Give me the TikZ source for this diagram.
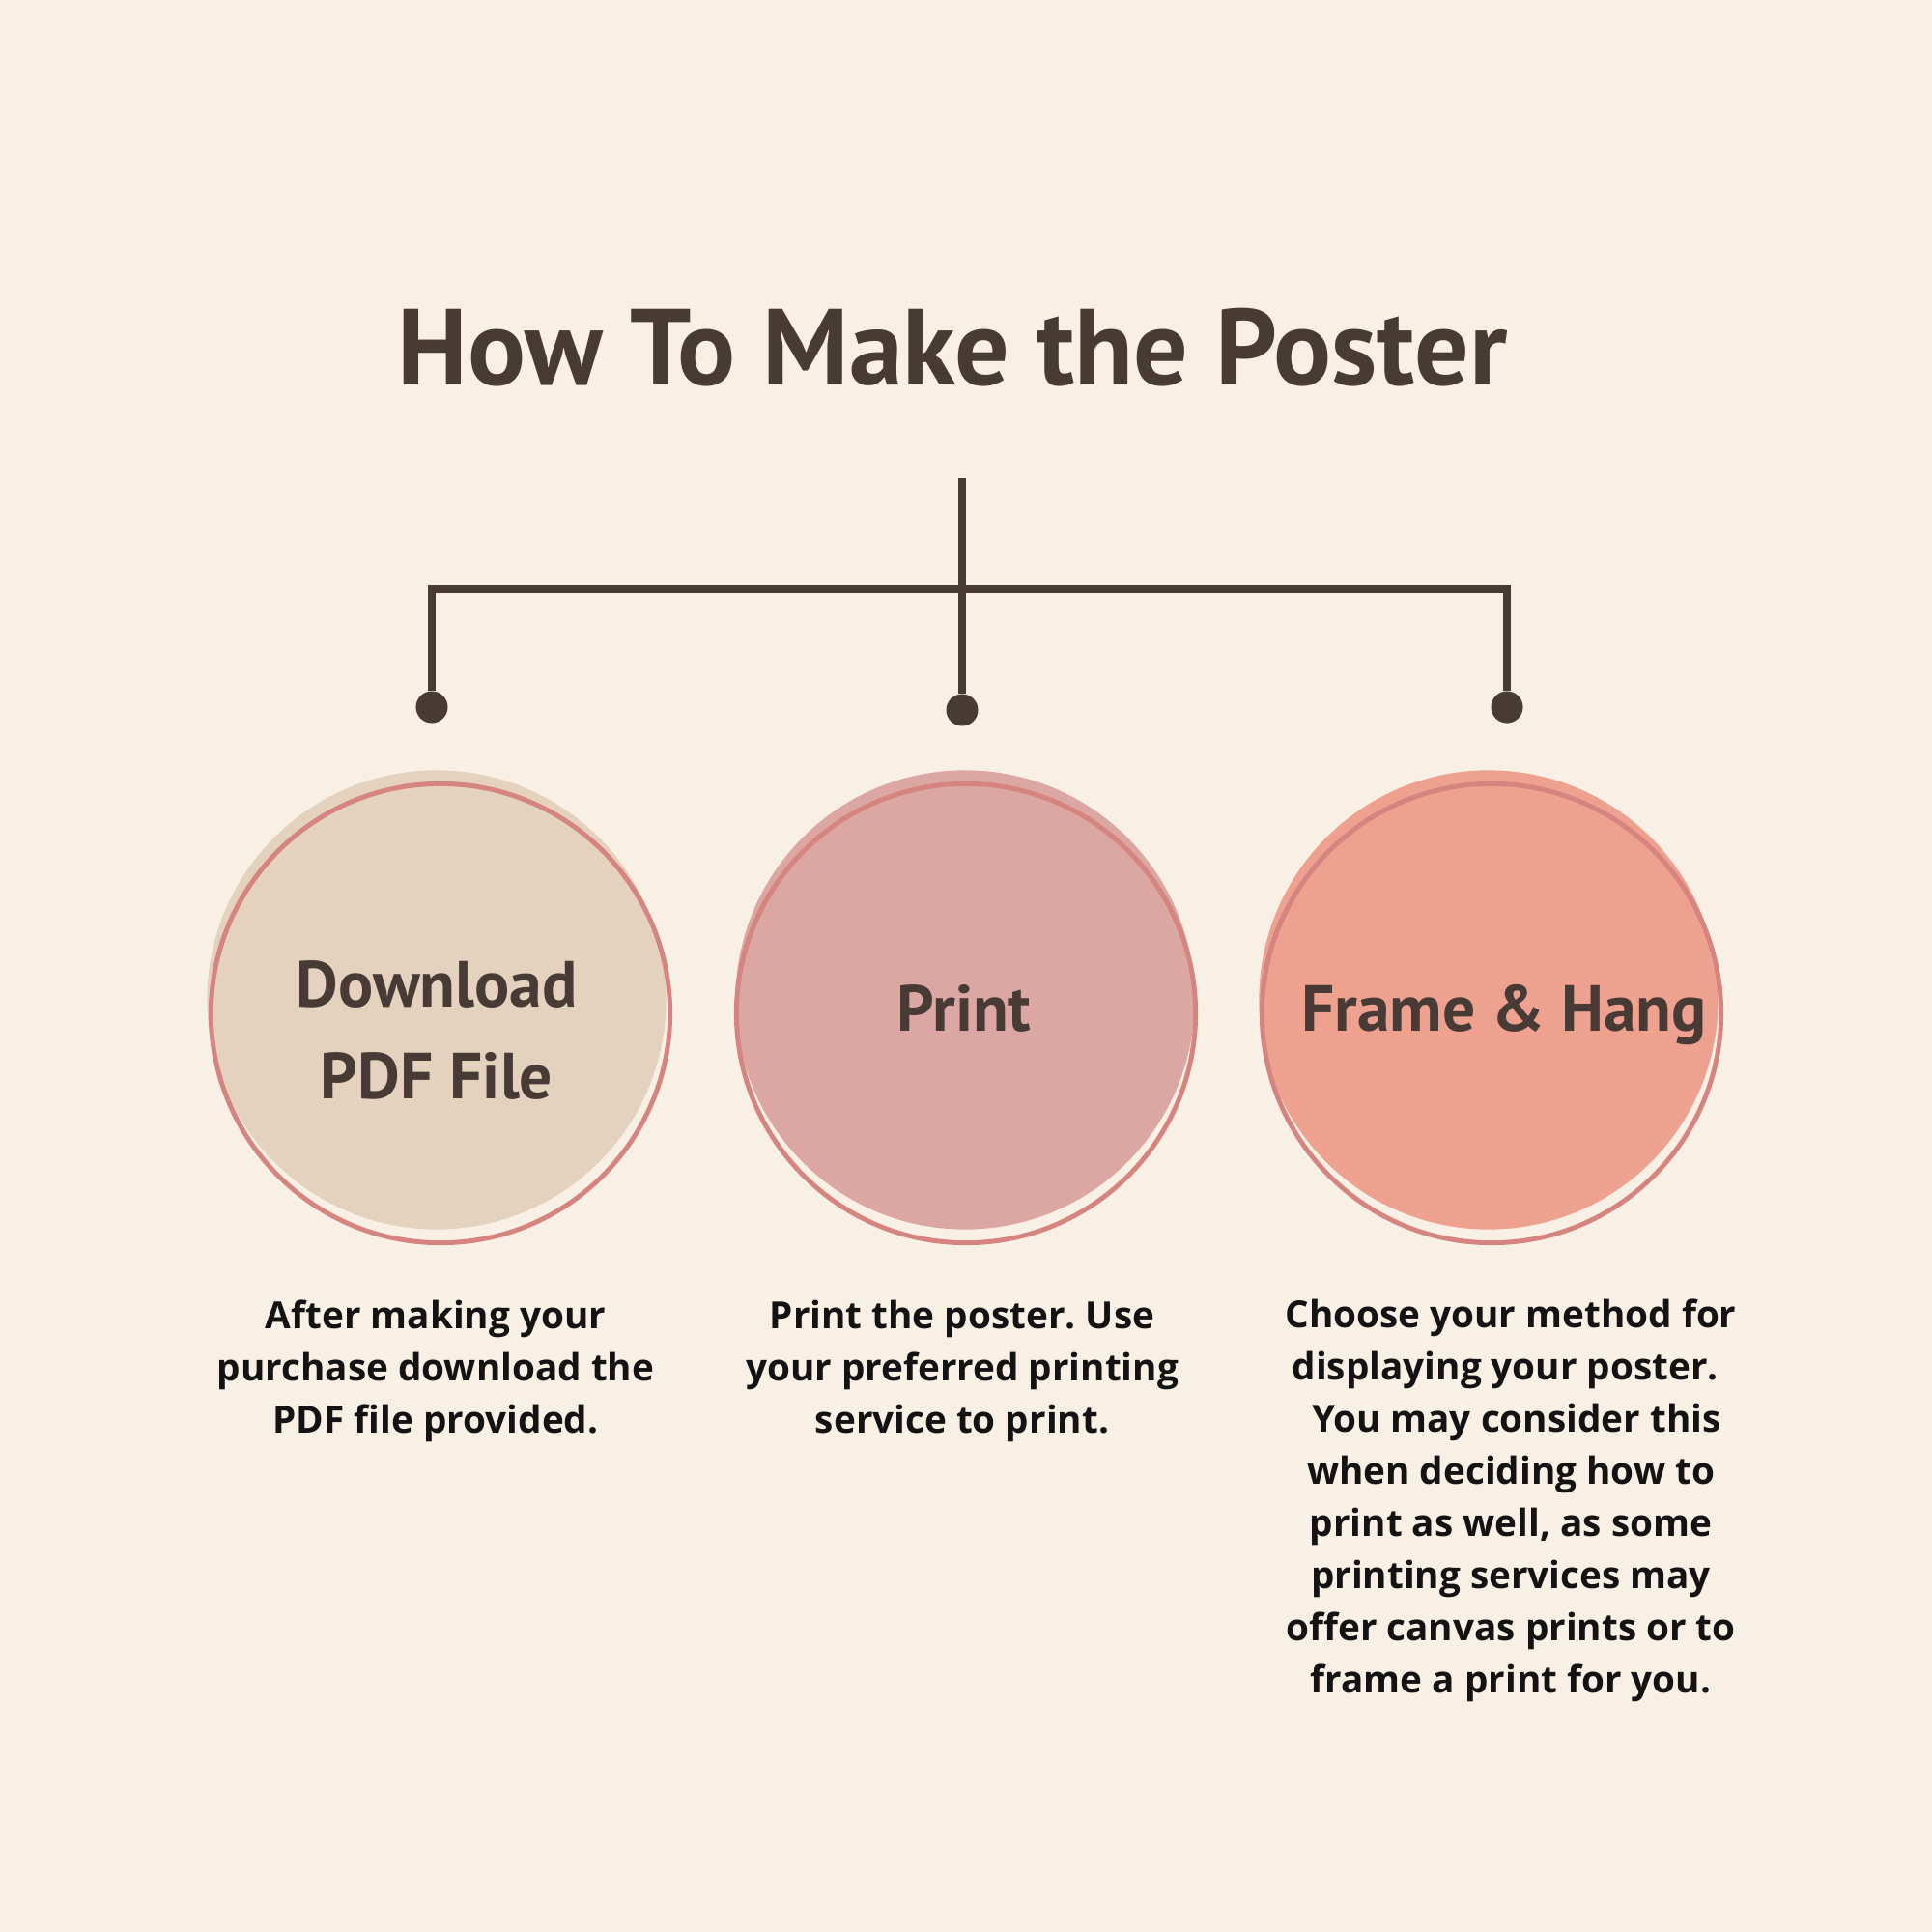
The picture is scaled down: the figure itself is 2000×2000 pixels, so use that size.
\documentclass[tikz,border=0pt]{standalone}
\usepackage{fontspec}
\setmainfont{Open Sans}
\newfontfamily\headfont{PT Sans}
\usetikzlibrary{positioning}
\frenchspacing

\definecolor{paper}{HTML}{F8F0E4}
\definecolor{ink}{HTML}{483B36}
\definecolor{bodyink}{HTML}{141212}
\definecolor{rim}{HTML}{D58480}
\definecolor{sand}{HTML}{E4D2BE}
\definecolor{rose}{HTML}{DCA7A2}
\definecolor{salmon}{HTML}{EFA190}

\tikzset{
	link/.style={draw=ink, line width=2.4pt},
	knob/.style={circle, fill=ink, inner sep=0pt, minimum size=0.33cm},
	disc/.style={circle, inner sep=0pt, minimum size=4.75cm},
	ring/.style={circle, draw=rim, line width=1.4pt, inner sep=0pt, minimum size=4.75cm},
	head/.style={text=ink, anchor=base, inner sep=0pt, font=\headfont\bfseries\fontsize{19.2}{27}\selectfont},
	body/.style={text=bodyink, anchor=base, inner sep=0pt, font=\bfseries\fontsize{11}{15.4}\selectfont}
}

\begin{document}
\begin{tikzpicture}[x=0.01cm, y=-0.01cm]
	\fill[paper] (0,0) rectangle (2000,2000);
	\useasboundingbox (0,0) rectangle (2000,2000);
	% title
	\node[head, font=\headfont\bfseries\fontsize{31.8}{36}\selectfont] (title) at (986,398){How To Make the Poster};
	% tree
	\coordinate (top) at (996,495);
	\coordinate (junc) at (996,610);
	\node[knob] (dotA) at (447,732){};
	\node[knob] (dotB) at (996,735){};
	\node[knob] (dotC) at (1560,732){};
	\draw[link] (top) -- (dotB);
	\draw[link] (dotA) |- (junc) -| (dotC);
	% circles
	\node[disc, fill=sand] (discA) at (452,1035){};
	\node[disc, fill=rose] (discB) at (999,1035){};
	\node[disc, fill=salmon] (discC) at (1541,1035){};
	\node[ring] (ringA) at (456,1049){};
	\node[ring] (ringB) at (1000,1049){};
	\node[ring] (ringC) at (1544,1049){};
	\node[head] (nameA1) at (452,1042){Download};
	\node[head] (nameA2) at (452,1137){PDF File};
	\node[head] (nameB) at (998,1067){Print};
	\node[head] (nameC) at (1557,1067){Frame \& Hang};
	% texts
	\foreach \t [count=\i] in {After making your, purchase download the, PDF file provided.}
		\node[body] (txtA\i) at (451,1375+54*\i-54){\t};
	\foreach \t [count=\i] in {Print the poster. Use, your preferred printing, service to print.}
		\node[body] (txtB\i) at (996,1375+54*\i-54){\t};
	\foreach \t [count=\i] in {Choose your method for, displaying your poster.\hspace*{0.3em}, \hspace*{0.3em}You may consider this, when deciding how to, {print as well, as some}, printing services may, offer canvas prints or to, frame a print for you.}
		\node[body] (txtC\i) at (1564,1374+54.1*\i-54.1){\t};
\end{tikzpicture}
\end{document}
